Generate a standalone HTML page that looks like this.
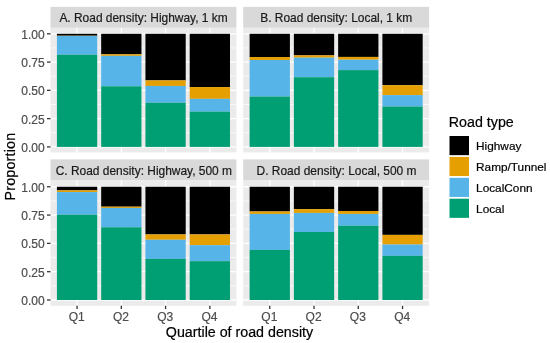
<!DOCTYPE html>
<html lang="en"><head><meta charset="utf-8"><title>Road type by quartile of road density</title>
<style>html,body{margin:0;padding:0;background:#fff}svg{display:block}</style></head>
<body>
<svg width="550" height="343" viewBox="0 0 550 343" font-family="&quot;Liberation Sans&quot;, sans-serif">
<rect width="550" height="343" fill="#fff"/>
<rect x="50.5" y="6.9" width="185.90" height="20.90" fill="#D9D9D9"/>
<rect x="50.5" y="27.8" width="185.90" height="124.60" fill="#EBEBEB"/>
<line x1="50.5" x2="236.4" y1="132.76" y2="132.76" stroke="#fff" stroke-width="0.65"/>
<line x1="50.5" x2="236.4" y1="104.49" y2="104.49" stroke="#fff" stroke-width="0.65"/>
<line x1="50.5" x2="236.4" y1="76.21" y2="76.21" stroke="#fff" stroke-width="0.65"/>
<line x1="50.5" x2="236.4" y1="47.94" y2="47.94" stroke="#fff" stroke-width="0.65"/>
<line x1="50.5" x2="236.4" y1="146.90" y2="146.90" stroke="#fff" stroke-width="1.3"/>
<line x1="50.5" x2="236.4" y1="118.62" y2="118.62" stroke="#fff" stroke-width="1.3"/>
<line x1="50.5" x2="236.4" y1="90.35" y2="90.35" stroke="#fff" stroke-width="1.3"/>
<line x1="50.5" x2="236.4" y1="62.08" y2="62.08" stroke="#fff" stroke-width="1.3"/>
<line x1="50.5" x2="236.4" y1="33.80" y2="33.80" stroke="#fff" stroke-width="1.3"/>
<line x1="77.06" x2="77.06" y1="27.8" y2="152.4" stroke="#fff" stroke-width="1.3"/>
<line x1="121.32" x2="121.32" y1="27.8" y2="152.4" stroke="#fff" stroke-width="1.3"/>
<line x1="165.58" x2="165.58" y1="27.8" y2="152.4" stroke="#fff" stroke-width="1.3"/>
<line x1="209.84" x2="209.84" y1="27.8" y2="152.4" stroke="#fff" stroke-width="1.3"/>
<rect x="56.92" y="33.80" width="40.28" height="1.92" fill="#000000"/>
<rect x="56.92" y="35.72" width="40.28" height="0.23" fill="#E69F00"/>
<rect x="56.92" y="35.95" width="40.28" height="18.77" fill="#56B4E9"/>
<rect x="56.92" y="54.72" width="40.28" height="92.18" fill="#009E73"/>
<rect x="101.18" y="33.80" width="40.28" height="20.47" fill="#000000"/>
<rect x="101.18" y="54.27" width="40.28" height="1.58" fill="#E69F00"/>
<rect x="101.18" y="55.85" width="40.28" height="30.42" fill="#56B4E9"/>
<rect x="101.18" y="86.28" width="40.28" height="60.62" fill="#009E73"/>
<rect x="145.44" y="33.80" width="40.28" height="46.60" fill="#000000"/>
<rect x="145.44" y="80.40" width="40.28" height="5.54" fill="#E69F00"/>
<rect x="145.44" y="85.94" width="40.28" height="16.85" fill="#56B4E9"/>
<rect x="145.44" y="102.79" width="40.28" height="44.11" fill="#009E73"/>
<rect x="189.70" y="33.80" width="40.28" height="53.27" fill="#000000"/>
<rect x="189.70" y="87.07" width="40.28" height="11.76" fill="#E69F00"/>
<rect x="189.70" y="98.83" width="40.28" height="12.78" fill="#56B4E9"/>
<rect x="189.70" y="111.61" width="40.28" height="35.29" fill="#009E73"/>
<text x="143.55" y="21.65" font-size="11.95" fill="#1A1A1A" stroke="#1A1A1A" stroke-width="0.2" text-anchor="middle">A. Road density: Highway, 1 km</text>
<rect x="243.2" y="6.9" width="185.90" height="20.90" fill="#D9D9D9"/>
<rect x="243.2" y="27.8" width="185.90" height="124.60" fill="#EBEBEB"/>
<line x1="243.2" x2="429.1" y1="132.76" y2="132.76" stroke="#fff" stroke-width="0.65"/>
<line x1="243.2" x2="429.1" y1="104.49" y2="104.49" stroke="#fff" stroke-width="0.65"/>
<line x1="243.2" x2="429.1" y1="76.21" y2="76.21" stroke="#fff" stroke-width="0.65"/>
<line x1="243.2" x2="429.1" y1="47.94" y2="47.94" stroke="#fff" stroke-width="0.65"/>
<line x1="243.2" x2="429.1" y1="146.90" y2="146.90" stroke="#fff" stroke-width="1.3"/>
<line x1="243.2" x2="429.1" y1="118.62" y2="118.62" stroke="#fff" stroke-width="1.3"/>
<line x1="243.2" x2="429.1" y1="90.35" y2="90.35" stroke="#fff" stroke-width="1.3"/>
<line x1="243.2" x2="429.1" y1="62.08" y2="62.08" stroke="#fff" stroke-width="1.3"/>
<line x1="243.2" x2="429.1" y1="33.80" y2="33.80" stroke="#fff" stroke-width="1.3"/>
<line x1="269.76" x2="269.76" y1="27.8" y2="152.4" stroke="#fff" stroke-width="1.3"/>
<line x1="314.02" x2="314.02" y1="27.8" y2="152.4" stroke="#fff" stroke-width="1.3"/>
<line x1="358.28" x2="358.28" y1="27.8" y2="152.4" stroke="#fff" stroke-width="1.3"/>
<line x1="402.54" x2="402.54" y1="27.8" y2="152.4" stroke="#fff" stroke-width="1.3"/>
<rect x="249.62" y="33.80" width="40.28" height="23.24" fill="#000000"/>
<rect x="249.62" y="57.04" width="40.28" height="2.93" fill="#E69F00"/>
<rect x="249.62" y="59.97" width="40.28" height="36.60" fill="#56B4E9"/>
<rect x="249.62" y="96.57" width="40.28" height="50.33" fill="#009E73"/>
<rect x="293.88" y="33.80" width="40.28" height="21.55" fill="#000000"/>
<rect x="293.88" y="55.35" width="40.28" height="2.32" fill="#E69F00"/>
<rect x="293.88" y="57.66" width="40.28" height="19.57" fill="#56B4E9"/>
<rect x="293.88" y="77.23" width="40.28" height="69.67" fill="#009E73"/>
<rect x="338.14" y="33.80" width="40.28" height="23.13" fill="#000000"/>
<rect x="338.14" y="56.93" width="40.28" height="2.77" fill="#E69F00"/>
<rect x="338.14" y="59.70" width="40.28" height="10.41" fill="#56B4E9"/>
<rect x="338.14" y="70.11" width="40.28" height="76.79" fill="#009E73"/>
<rect x="382.40" y="33.80" width="40.28" height="51.40" fill="#000000"/>
<rect x="382.40" y="85.20" width="40.28" height="9.90" fill="#E69F00"/>
<rect x="382.40" y="95.10" width="40.28" height="11.42" fill="#56B4E9"/>
<rect x="382.40" y="106.52" width="40.28" height="40.38" fill="#009E73"/>
<text x="336.25" y="21.65" font-size="11.95" fill="#1A1A1A" stroke="#1A1A1A" stroke-width="0.2" text-anchor="middle">B. Road density: Local, 1 km</text>
<line x1="47.00" x2="50.5" y1="146.90" y2="146.90" stroke="#333" stroke-width="1.3"/>
<text x="44.6" y="152.00" font-size="12" fill="#4D4D4D" stroke="#4D4D4D" stroke-width="0.2" text-anchor="end">0.00</text>
<line x1="47.00" x2="50.5" y1="118.62" y2="118.62" stroke="#333" stroke-width="1.3"/>
<text x="44.6" y="123.72" font-size="12" fill="#4D4D4D" stroke="#4D4D4D" stroke-width="0.2" text-anchor="end">0.25</text>
<line x1="47.00" x2="50.5" y1="90.35" y2="90.35" stroke="#333" stroke-width="1.3"/>
<text x="44.6" y="95.45" font-size="12" fill="#4D4D4D" stroke="#4D4D4D" stroke-width="0.2" text-anchor="end">0.50</text>
<line x1="47.00" x2="50.5" y1="62.08" y2="62.08" stroke="#333" stroke-width="1.3"/>
<text x="44.6" y="67.17" font-size="12" fill="#4D4D4D" stroke="#4D4D4D" stroke-width="0.2" text-anchor="end">0.75</text>
<line x1="47.00" x2="50.5" y1="33.80" y2="33.80" stroke="#333" stroke-width="1.3"/>
<text x="44.6" y="38.90" font-size="12" fill="#4D4D4D" stroke="#4D4D4D" stroke-width="0.2" text-anchor="end">1.00</text>
<rect x="50.5" y="159.4" width="185.90" height="21.00" fill="#D9D9D9"/>
<rect x="50.5" y="180.4" width="185.90" height="125.40" fill="#EBEBEB"/>
<line x1="50.5" x2="236.4" y1="285.84" y2="285.84" stroke="#fff" stroke-width="0.65"/>
<line x1="50.5" x2="236.4" y1="257.53" y2="257.53" stroke="#fff" stroke-width="0.65"/>
<line x1="50.5" x2="236.4" y1="229.22" y2="229.22" stroke="#fff" stroke-width="0.65"/>
<line x1="50.5" x2="236.4" y1="200.91" y2="200.91" stroke="#fff" stroke-width="0.65"/>
<line x1="50.5" x2="236.4" y1="300.00" y2="300.00" stroke="#fff" stroke-width="1.3"/>
<line x1="50.5" x2="236.4" y1="271.69" y2="271.69" stroke="#fff" stroke-width="1.3"/>
<line x1="50.5" x2="236.4" y1="243.38" y2="243.38" stroke="#fff" stroke-width="1.3"/>
<line x1="50.5" x2="236.4" y1="215.06" y2="215.06" stroke="#fff" stroke-width="1.3"/>
<line x1="50.5" x2="236.4" y1="186.75" y2="186.75" stroke="#fff" stroke-width="1.3"/>
<line x1="77.06" x2="77.06" y1="180.4" y2="305.8" stroke="#fff" stroke-width="1.3"/>
<line x1="121.32" x2="121.32" y1="180.4" y2="305.8" stroke="#fff" stroke-width="1.3"/>
<line x1="165.58" x2="165.58" y1="180.4" y2="305.8" stroke="#fff" stroke-width="1.3"/>
<line x1="209.84" x2="209.84" y1="180.4" y2="305.8" stroke="#fff" stroke-width="1.3"/>
<rect x="56.92" y="186.75" width="40.28" height="3.62" fill="#000000"/>
<rect x="56.92" y="190.37" width="40.28" height="1.70" fill="#E69F00"/>
<rect x="56.92" y="192.07" width="40.28" height="22.65" fill="#56B4E9"/>
<rect x="56.92" y="214.72" width="40.28" height="85.28" fill="#009E73"/>
<line x1="77.06" x2="77.06" y1="305.8" y2="309.10" stroke="#333" stroke-width="1.3"/>
<text x="76.66" y="320.7" font-size="12" fill="#4D4D4D" stroke="#4D4D4D" stroke-width="0.2" text-anchor="middle">Q1</text>
<rect x="101.18" y="186.75" width="40.28" height="19.93" fill="#000000"/>
<rect x="101.18" y="206.68" width="40.28" height="1.25" fill="#E69F00"/>
<rect x="101.18" y="207.93" width="40.28" height="19.37" fill="#56B4E9"/>
<rect x="101.18" y="227.29" width="40.28" height="72.71" fill="#009E73"/>
<line x1="121.32" x2="121.32" y1="305.8" y2="309.10" stroke="#333" stroke-width="1.3"/>
<text x="120.92" y="320.7" font-size="12" fill="#4D4D4D" stroke="#4D4D4D" stroke-width="0.2" text-anchor="middle">Q2</text>
<rect x="145.44" y="186.75" width="40.28" height="47.68" fill="#000000"/>
<rect x="145.44" y="234.43" width="40.28" height="5.32" fill="#E69F00"/>
<rect x="145.44" y="239.75" width="40.28" height="19.14" fill="#56B4E9"/>
<rect x="145.44" y="258.89" width="40.28" height="41.11" fill="#009E73"/>
<line x1="165.58" x2="165.58" y1="305.8" y2="309.10" stroke="#333" stroke-width="1.3"/>
<text x="165.18" y="320.7" font-size="12" fill="#4D4D4D" stroke="#4D4D4D" stroke-width="0.2" text-anchor="middle">Q3</text>
<rect x="189.70" y="186.75" width="40.28" height="47.68" fill="#000000"/>
<rect x="189.70" y="234.43" width="40.28" height="10.76" fill="#E69F00"/>
<rect x="189.70" y="245.19" width="40.28" height="15.97" fill="#56B4E9"/>
<rect x="189.70" y="261.16" width="40.28" height="38.84" fill="#009E73"/>
<line x1="209.84" x2="209.84" y1="305.8" y2="309.10" stroke="#333" stroke-width="1.3"/>
<text x="209.44" y="320.7" font-size="12" fill="#4D4D4D" stroke="#4D4D4D" stroke-width="0.2" text-anchor="middle">Q4</text>
<text x="143.85" y="174.50" font-size="11.95" fill="#1A1A1A" stroke="#1A1A1A" stroke-width="0.2" text-anchor="middle">C. Road density: Highway, 500 m</text>
<rect x="243.2" y="159.4" width="185.90" height="21.00" fill="#D9D9D9"/>
<rect x="243.2" y="180.4" width="185.90" height="125.40" fill="#EBEBEB"/>
<line x1="243.2" x2="429.1" y1="285.84" y2="285.84" stroke="#fff" stroke-width="0.65"/>
<line x1="243.2" x2="429.1" y1="257.53" y2="257.53" stroke="#fff" stroke-width="0.65"/>
<line x1="243.2" x2="429.1" y1="229.22" y2="229.22" stroke="#fff" stroke-width="0.65"/>
<line x1="243.2" x2="429.1" y1="200.91" y2="200.91" stroke="#fff" stroke-width="0.65"/>
<line x1="243.2" x2="429.1" y1="300.00" y2="300.00" stroke="#fff" stroke-width="1.3"/>
<line x1="243.2" x2="429.1" y1="271.69" y2="271.69" stroke="#fff" stroke-width="1.3"/>
<line x1="243.2" x2="429.1" y1="243.38" y2="243.38" stroke="#fff" stroke-width="1.3"/>
<line x1="243.2" x2="429.1" y1="215.06" y2="215.06" stroke="#fff" stroke-width="1.3"/>
<line x1="243.2" x2="429.1" y1="186.75" y2="186.75" stroke="#fff" stroke-width="1.3"/>
<line x1="269.76" x2="269.76" y1="180.4" y2="305.8" stroke="#fff" stroke-width="1.3"/>
<line x1="314.02" x2="314.02" y1="180.4" y2="305.8" stroke="#fff" stroke-width="1.3"/>
<line x1="358.28" x2="358.28" y1="180.4" y2="305.8" stroke="#fff" stroke-width="1.3"/>
<line x1="402.54" x2="402.54" y1="180.4" y2="305.8" stroke="#fff" stroke-width="1.3"/>
<rect x="249.62" y="186.75" width="40.28" height="24.69" fill="#000000"/>
<rect x="249.62" y="211.44" width="40.28" height="2.49" fill="#E69F00"/>
<rect x="249.62" y="213.93" width="40.28" height="36.01" fill="#56B4E9"/>
<rect x="249.62" y="249.94" width="40.28" height="50.06" fill="#009E73"/>
<line x1="269.76" x2="269.76" y1="305.8" y2="309.10" stroke="#333" stroke-width="1.3"/>
<text x="269.36" y="320.7" font-size="12" fill="#4D4D4D" stroke="#4D4D4D" stroke-width="0.2" text-anchor="middle">Q1</text>
<rect x="293.88" y="186.75" width="40.28" height="22.42" fill="#000000"/>
<rect x="293.88" y="209.17" width="40.28" height="3.74" fill="#E69F00"/>
<rect x="293.88" y="212.91" width="40.28" height="19.03" fill="#56B4E9"/>
<rect x="293.88" y="231.94" width="40.28" height="68.06" fill="#009E73"/>
<line x1="314.02" x2="314.02" y1="305.8" y2="309.10" stroke="#333" stroke-width="1.3"/>
<text x="313.62" y="320.7" font-size="12" fill="#4D4D4D" stroke="#4D4D4D" stroke-width="0.2" text-anchor="middle">Q2</text>
<rect x="338.14" y="186.75" width="40.28" height="24.24" fill="#000000"/>
<rect x="338.14" y="210.99" width="40.28" height="2.94" fill="#E69F00"/>
<rect x="338.14" y="213.93" width="40.28" height="11.78" fill="#56B4E9"/>
<rect x="338.14" y="225.71" width="40.28" height="74.29" fill="#009E73"/>
<line x1="358.28" x2="358.28" y1="305.8" y2="309.10" stroke="#333" stroke-width="1.3"/>
<text x="357.88" y="320.7" font-size="12" fill="#4D4D4D" stroke="#4D4D4D" stroke-width="0.2" text-anchor="middle">Q3</text>
<rect x="382.40" y="186.75" width="40.28" height="48.13" fill="#000000"/>
<rect x="382.40" y="234.88" width="40.28" height="9.63" fill="#E69F00"/>
<rect x="382.40" y="244.51" width="40.28" height="11.32" fill="#56B4E9"/>
<rect x="382.40" y="255.83" width="40.28" height="44.17" fill="#009E73"/>
<line x1="402.54" x2="402.54" y1="305.8" y2="309.10" stroke="#333" stroke-width="1.3"/>
<text x="402.14" y="320.7" font-size="12" fill="#4D4D4D" stroke="#4D4D4D" stroke-width="0.2" text-anchor="middle">Q4</text>
<text x="336.55" y="174.50" font-size="11.95" fill="#1A1A1A" stroke="#1A1A1A" stroke-width="0.2" text-anchor="middle">D. Road density: Local, 500 m</text>
<line x1="47.00" x2="50.5" y1="300.00" y2="300.00" stroke="#333" stroke-width="1.3"/>
<text x="44.6" y="305.10" font-size="12" fill="#4D4D4D" stroke="#4D4D4D" stroke-width="0.2" text-anchor="end">0.00</text>
<line x1="47.00" x2="50.5" y1="271.69" y2="271.69" stroke="#333" stroke-width="1.3"/>
<text x="44.6" y="276.79" font-size="12" fill="#4D4D4D" stroke="#4D4D4D" stroke-width="0.2" text-anchor="end">0.25</text>
<line x1="47.00" x2="50.5" y1="243.38" y2="243.38" stroke="#333" stroke-width="1.3"/>
<text x="44.6" y="248.47" font-size="12" fill="#4D4D4D" stroke="#4D4D4D" stroke-width="0.2" text-anchor="end">0.50</text>
<line x1="47.00" x2="50.5" y1="215.06" y2="215.06" stroke="#333" stroke-width="1.3"/>
<text x="44.6" y="220.16" font-size="12" fill="#4D4D4D" stroke="#4D4D4D" stroke-width="0.2" text-anchor="end">0.75</text>
<line x1="47.00" x2="50.5" y1="186.75" y2="186.75" stroke="#333" stroke-width="1.3"/>
<text x="44.6" y="191.85" font-size="12" fill="#4D4D4D" stroke="#4D4D4D" stroke-width="0.2" text-anchor="end">1.00</text>
<text x="239.5" y="336.8" font-size="14.25" fill="#000" stroke="#000" stroke-width="0.2" text-anchor="middle">Quartile of road density</text>
<text transform="translate(14.5,166.6) rotate(-90)" font-size="14.25" fill="#000" stroke="#000" stroke-width="0.2" text-anchor="middle" letter-spacing="0.2">Proportion</text>
<text x="448.8" y="127.2" font-size="14.25" fill="#000" stroke="#000" stroke-width="0.2">Road type</text>
<rect x="449.5" y="136.00" width="19.5" height="19.15" fill="#000000"/>
<text x="476.1" y="150.30" font-size="11.8" fill="#000" stroke="#000" stroke-width="0.2">Highway</text>
<rect x="449.5" y="156.90" width="19.5" height="19.15" fill="#E69F00"/>
<text x="476.1" y="171.20" font-size="11.8" fill="#000" stroke="#000" stroke-width="0.2">Ramp/Tunnel</text>
<rect x="449.5" y="177.80" width="19.5" height="19.15" fill="#56B4E9"/>
<text x="476.1" y="192.10" font-size="11.8" fill="#000" stroke="#000" stroke-width="0.2">LocalConn</text>
<rect x="449.5" y="198.70" width="19.5" height="19.15" fill="#009E73"/>
<text x="476.1" y="213.00" font-size="11.8" fill="#000" stroke="#000" stroke-width="0.2">Local</text>
</svg>
</body></html>
